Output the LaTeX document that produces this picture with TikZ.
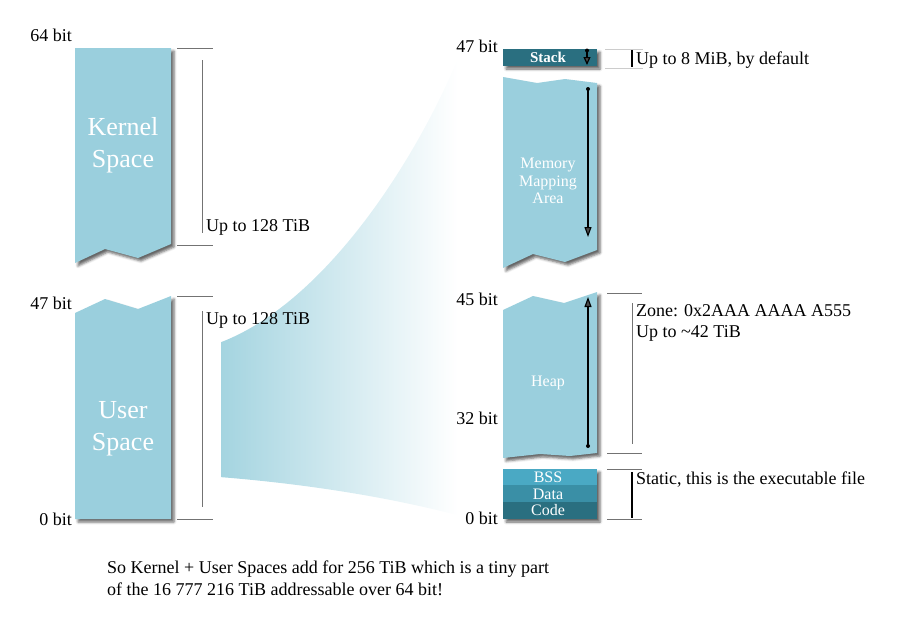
\documentclass[tikz,border=0pt]{standalone}
\usepackage{fontspec}
\setmainfont{Liberation Serif}
\usetikzlibrary{calc,shadows.blur,fadings,arrows.meta}
\definecolor{bannerblue}{RGB}{154,207,221}
\definecolor{codeblue}{RGB}{42,111,128}
\definecolor{datablue}{RGB}{58,143,166}
\definecolor{bssblue}{RGB}{74,169,196}
\tikzset{
	softshadow/.style={blur shadow={shadow xshift=3pt, shadow yshift=-3pt, shadow blur radius=2.5pt, shadow opacity=60}},
	banner/.style={fill=bannerblue, softshadow},
	lbl/.style={font=\fontsize{18}{22}\selectfont, inner sep=0pt},
	bigtext/.style={font=\fontsize{26}{32}\selectfont, text=white, align=center, inner sep=0pt},
	smalltext/.style={font=\fontsize{16}{17.5}\selectfont, text=white, align=center, inner sep=0pt},
	tick/.style={line width=0.8pt, color=black!55},
}
\begin{document}
\begin{tikzpicture}[x=1pt, y=-1pt]
		%%%%% START %%%%%
		\useasboundingbox (0, 0) rectangle (916, 624);
		
		% fan from user space to the zoomed map
		\fill[bannerblue!90, path fading=east] (221, 342) .. controls (330, 300) and (420, 150) .. (457, 60)
			-- (457, 515) .. controls (400, 500) and (320, 485) .. (221, 477) -- cycle;
		
		% kernel space
		\path[banner] (75, 48) -- (171, 48) -- (171, 244) -- (138, 258) -- (105, 249) -- (75, 263) -- cycle;
		\node[bigtext] (kernel) at (123, 145) {Kernel\\Space};
		\node[lbl, anchor=base east] (bit64) at (72, 41) {64 bit};
		\draw[tick] (177, 48) -- (213, 48);
		\draw[tick] (177, 245) -- (213, 245);
		\draw[tick] (202, 60) -- (202, 233);
		\node[lbl, anchor=base west] (kernelsize) at (206, 231) {Up to 128 TiB};
		
		% user space
		\path[banner] (75, 313) -- (105, 299) -- (138, 309) -- (171, 296) -- (171, 519) -- (75, 519) -- cycle;
		\node[bigtext] (user) at (123, 429) {User\\Space};
		\node[lbl, anchor=base east] (bit47l) at (72, 309) {47 bit};
		\node[lbl, anchor=base east] (bit0l) at (72, 525) {0 bit};
		\draw[tick] (177, 296) -- (213, 296);
		\draw[tick] (177, 519) -- (213, 519);
		\draw[tick] (202, 311) -- (202, 507);
		\node[lbl, anchor=base west] (usersize) at (206, 324) {Up to 128 TiB};
		
		% stack
		\path[fill=codeblue, softshadow] (503, 49) rectangle (597, 66);
		\node[smalltext, font=\bfseries\fontsize{15}{17}\selectfont] (stack) at (548, 57.5) {Stack};
		\coordinate (stacktop) at (587, 50.5);
		\coordinate (stackend) at (587, 65);
		\fill[black] (stacktop) circle (2);
		\draw[line width=1.2pt, -{Triangle[length=8pt, width=7pt]}] (stacktop) -- (stackend);
		\node[lbl, anchor=base east] (bit47r) at (498, 52) {47 bit};
		\draw[line width=0.8pt, color=black!20] (605, 49) -- (643, 49);
		\draw[line width=0.8pt, color=black!20] (605, 68) -- (643, 68);
		\draw[line width=1.4pt] (632, 50) -- (632, 67);
		\node[lbl, anchor=base west] (stacksize) at (636, 64) {Up to 8 MiB, by default};
		
		% memory mapping area
		\path[banner] (503, 77) -- (537, 83) -- (565, 79) -- (597, 83) -- (597, 250) -- (565, 262) -- (533, 254) -- (503, 268) -- cycle;
		\node[smalltext] (mma) at (548, 181) {Memory\\Mapping\\Area};
		\coordinate (mmatop) at (588, 89);
		\coordinate (mmaend) at (588, 237);
		\fill[black] (mmatop) circle (2);
		\draw[line width=1.1pt, -{Triangle[length=10pt, width=7pt]}] (mmatop) -- (mmaend);
		
		% heap
		\path[banner] (503, 310) -- (533, 296) -- (564, 303) -- (597, 292) -- (597, 453) -- (570, 456) -- (540, 454) -- (503, 458) -- cycle;
		\node[smalltext] (heap) at (548, 383) {Heap};
		\coordinate (heapbase) at (588, 446);
		\coordinate (heaptop) at (588, 297);
		\fill[black] (heapbase) circle (2);
		\draw[line width=1.1pt, -{Triangle[length=10pt, width=7pt]}] (heapbase) -- (heaptop);
		\node[lbl, anchor=base east] (bit45) at (498, 305) {45 bit};
		\node[lbl, anchor=base east] (bit32) at (498, 424) {32 bit};
		\draw[tick] (607, 293) -- (642, 293);
		\draw[tick] (607, 453) -- (642, 453);
		\draw[tick] (632, 303) -- (632, 444);
		\node[lbl, anchor=base west] (zone) at (636, 316) {Zone: 0x2AAA AAAA A555};
		\node[lbl, anchor=base west] (heapsize) at (636, 337) {Up to \textasciitilde42 TiB};
		
		% static part
		\path[fill=codeblue, softshadow] (503, 469) rectangle (597, 519);
		\fill[bssblue] (503, 469) rectangle (597, 485);
		\fill[datablue] (503, 485) rectangle (597, 502);
		\fill[codeblue] (503, 502) rectangle (597, 519);
		\node[smalltext] (bss) at (548, 477.5) {BSS};
		\node[smalltext] (data) at (548, 494) {Data};
		\node[smalltext] (code) at (548, 510.5) {Code};
		\node[lbl, anchor=base east] (bit0r) at (498, 524) {0 bit};
		\draw[tick] (607, 469) -- (642, 469);
		\draw[tick] (607, 519) -- (642, 519);
		\draw[line width=1.2pt] (632, 472) -- (632, 518);
		\node[lbl, anchor=base west] (static) at (636, 484) {Static, this is the executable file};
		
		% note
		\node[lbl, anchor=base west] (note1) at (107, 573) {So Kernel + User Spaces add for 256 TiB which is a tiny part};
		\node[lbl, anchor=base west] (note2) at (107, 595) {of the 16 777 216 TiB addressable over 64 bit!};
		
		%%%%% END %%%%%
	\end{tikzpicture}
\end{document}
